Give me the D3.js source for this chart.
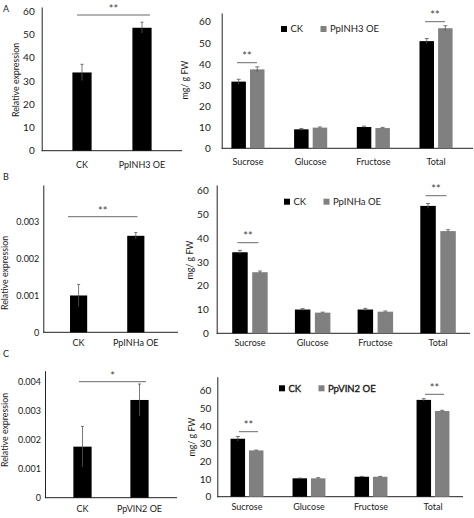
<!DOCTYPE html>
<html><head><meta charset="utf-8">
<script src="https://cdn.jsdelivr.net/npm/d3@7"></script>
<style>body{margin:0;background:#fff}svg{display:block}text{font-family:Lato,"Open Sans",sans-serif}</style>
</head><body>
<svg id="c" width="474" height="518"></svg>
<script>
// ---------- DATA ----------
const exprCatsA = ["CK", "PpINH3 OE"];
const exprCatsB = ["CK", "PpINHa OE"];
const exprCatsC = ["CK", "PpVIN2 OE"];
const exprA = [33.6, 52.8];
const exprErrA = [3.5, 2.4];
const exprB = [0.0010, 0.00262];
const exprErrB = [0.0003, 0.00009];
const exprC = [0.00176, 0.00337];
const exprErrC = [0.0007, 0.00055];
const exprTicksA = [0, 10, 20, 30, 40, 50, 60];
const exprTickLabelsA = ["0", "10", "20", "30", "40", "50", "60"];
const exprTicksB = [0, 0.001, 0.002, 0.003];
const exprTickLabelsB = ["0", "0.001", "0.002", "0.003"];
const exprTicksC = [0, 0.001, 0.002, 0.003, 0.004];
const exprTickLabelsC = ["0", "0.001", "0.002", "0.003", "0.004"];
const exprSigA = "**", exprSigB = "**", exprSigC = "*";

const sugars = ["Sucrose", "Glucose", "Fructose", "Total"];
const oeNameA = "PpINH3 OE", oeNameB = "PpINHa OE", oeNameC = "PpVIN2 OE";
const sugarCKA = [31.6, 9.0, 10.1, 50.8];
const sugarOEA = [37.4, 9.8, 9.6, 56.9];
const sugarCKErrA = [1.1, 0.4, 0.4, 1.2];
const sugarOEErrA = [1.2, 0.3, 0.3, 1.2];
const sugarCKB = [34.1, 10.0, 10.0, 53.6];
const sugarOEB = [25.7, 8.7, 9.1, 43.0];
const sugarCKErrB = [0.8, 0.4, 0.5, 1.0];
const sugarOEErrB = [0.5, 0.2, 0.3, 0.6];
const sugarCKC = [32.8, 10.4, 11.3, 54.8];
const sugarOEC = [26.2, 10.4, 11.3, 48.5];
const sugarCKErrC = [1.3, 0.1, 0.2, 0.7];
const sugarOEErrC = [0.2, 0.4, 0.2, 0.4];
const sugarTicks = [0, 10, 20, 30, 40, 50, 60];
const sugarTickLabels = ["0", "10", "20", "30", "40", "50", "60"];
const sugarSigIdx = [0, 3];
const sugarSig = "**";

// ---------- DRAW ----------
const svg = d3.select("#c");
const ERR = "#555", SIG = "#6a6a6a", GRAY = "#808080", TXT = "#1a1a1a";

function errBar(g, cx, y, v, e, cap) {
  g.append("line").attr("x1", cx).attr("x2", cx).attr("y1", y(v - e)).attr("y2", y(v + e))
    .attr("stroke", ERR).attr("stroke-width", 0.8);
  g.append("line").attr("x1", cx - cap).attr("x2", cx + cap).attr("y1", y(v + e)).attr("y2", y(v + e))
    .attr("stroke", ERR).attr("stroke-width", 0.8);
}

function yAxis(g, y, L, ticks, labels) {
  const ax = y.copy().domain([0, y.invert(L.top)]).range([L.base, L.top]);
  const a = g.append("g").attr("transform", `translate(${L.ax},0)`)
    .call(d3.axisLeft(ax).tickValues(ticks).tickFormat((d, i) => labels[i]).tickSize(0).tickPadding(L.pad));
  a.select(".domain").attr("stroke", "#222").attr("stroke-width", 1);
  a.selectAll("text").attr("font-size", L.fs).attr("fill", TXT).attr("font-family", "Lato");
  g.append("line").attr("x1", L.ax).attr("x2", L.xEnd).attr("y1", L.base).attr("y2", L.base)
    .attr("stroke", "#222").attr("stroke-width", 1);
}

function drawLeft(L, cats, vals, errs, ticks, labels, sig) {
  const g = svg.append("g");
  const y = d3.scaleLinear().domain([0, L.dMax]).range([L.base, L.yMax]);
  const x = d3.scaleBand().domain(cats).range(L.xr).paddingInner(L.pin).paddingOuter(L.pout);
  yAxis(g, y, L, ticks, labels);
  g.selectAll(".b").data(cats).join("rect")
    .attr("x", d => x(d)).attr("width", x.bandwidth())
    .attr("y", (d, i) => y(vals[i])).attr("height", (d, i) => L.base - y(vals[i])).attr("fill", "#000");
  cats.forEach((c, i) => errBar(g, x(c) + x.bandwidth() / 2, y, vals[i], errs[i], 1.5));
  cats.forEach(c => g.append("text").attr("x", x(c) + x.bandwidth() / 2).attr("y", L.lab)
    .attr("text-anchor", "middle").attr("font-size", 9).attr("fill", TXT)
    .attr("font-weight", L.bold ? "bold" : "normal").text(c));
  g.append("line").attr("x1", L.sig[0]).attr("x2", L.sig[1]).attr("y1", L.sig[2]).attr("y2", L.sig[2])
    .attr("stroke", SIG).attr("stroke-width", 1);
  g.append("text").attr("x", (L.sig[0] + L.sig[1]) / 2).attr("y", L.sig[2] - 2).attr("text-anchor", "middle")
    .attr("font-size", 11).attr("fill", "#444").text(sig);
  g.append("text").attr("transform", `translate(${L.tx},${L.ty}) rotate(-90)`).attr("text-anchor", "middle")
    .attr("font-size", 8.8).attr("fill", TXT).text("Relative expression");
  g.append("text").attr("x", 3).attr("y", L.py).attr("font-size", 9).attr("fill", TXT).text(L.pl);
}

function drawRight(L, ck, oe, ckE, oeE, oeName) {
  const g = svg.append("g");
  const y = d3.scaleLinear().domain([0, 60]).range([L.base, L.y60]);
  const x = d3.scaleBand().domain(sugars).range(L.xr);
  yAxis(g, y, L, sugarTicks, sugarTickLabels);
  const series = [{ v: ck, e: ckE, c: "#000", o: -L.off }, { v: oe, e: oeE, c: GRAY, o: L.off }];
  series.forEach(s => {
    g.selectAll(null).data(sugars).join("rect")
      .attr("x", d => x(d) + x.bandwidth() / 2 + s.o - L.bw / 2).attr("width", L.bw)
      .attr("y", (d, i) => y(s.v[i])).attr("height", (d, i) => L.base - y(s.v[i])).attr("fill", s.c);
    sugars.forEach((d, i) => errBar(g, x(d) + x.bandwidth() / 2 + s.o, y, s.v[i], s.e[i], 2));
  });
  sugars.forEach(d => g.append("text").attr("x", x(d) + x.bandwidth() / 2).attr("y", L.lab)
    .attr("text-anchor", "middle").attr("font-size", 9).attr("fill", TXT).text(d));
  sugarSigIdx.forEach((k, j) => {
    const cx = x(sugars[k]) + x.bandwidth() / 2 + L.sigDx;
    const yy = L.sigY[j];
    g.append("line").attr("x1", cx - L.sigW).attr("x2", cx + L.sigW).attr("y1", yy).attr("y2", yy)
      .attr("stroke", SIG).attr("stroke-width", 1);
    g.append("text").attr("x", cx).attr("y", yy - 2.5).attr("text-anchor", "middle")
      .attr("font-size", 11).attr("fill", "#444").text(sugarSig);
  });
  const lg = g.append("g").attr("transform", `translate(${L.lgx},${L.lgy})`);
  [["CK", "#000", 0], [oeName, GRAY, L.lgGap]].forEach(([n, c, dx]) => {
    lg.append("rect").attr("x", dx).attr("y", -3).attr("width", 6).attr("height", 6).attr("fill", c);
    lg.append("text").attr("x", dx + 9.5).attr("y", 3.3).attr("font-size", 9.5).attr("fill", TXT)
      .attr("stroke", L.lgBold ? TXT : "none").attr("stroke-width", 0.35).text(n);
  });
  g.append("text").attr("transform", `translate(${L.tx},${L.ty}) rotate(-90)`).attr("text-anchor", "middle")
    .attr("font-size", 8.8).attr("fill", TXT).text("mg/ g FW");
}

// ---------- LAYOUT ----------
drawLeft({ ax: 41.7, base: 150.7, yMax: 11, dMax: 60, top: 7, xEnd: 182, xr: [52, 172], pin: 0.68, pout: 0.34, pad: 7, fs: 10,
  lab: 168, sig: [77, 150, 15], tx: 19, ty: 80, py: 12, pl: "A" }, exprCatsA, exprA, exprErrA, exprTicksA, exprTickLabelsA, exprSigA);
drawLeft({ ax: 43.3, base: 332.3, yMax: 185, dMax: 0.004, top: 185, xEnd: 178, xr: [50, 164.4], pin: 0.7, pout: 0.35, pad: 4, fs: 9,
  lab: 345.5, sig: [68, 137.5, 216.7], tx: 7.5, ty: 273, py: 180, pl: "B" }, exprCatsB, exprB, exprErrB, exprTicksB, exprTickLabelsB, exprSigB);
drawLeft({ ax: 45, base: 497.7, yMax: 381.7, dMax: 0.004, top: 370.7, xEnd: 177, xr: [54, 168], pin: 0.68, pout: 0.34, pad: 4, fs: 9,
  lab: 512, sig: [79, 146, 381.7], tx: 7.5, ty: 430, py: 357, pl: "C", bold: false }, exprCatsC, exprC, exprErrC, exprTicksC, exprTickLabelsC, exprSigC);

drawRight({ ax: 221.7, base: 148.3, y60: 21.7, top: 13, xEnd: 473, xr: [216.6, 467.4], bw: 14.5, off: 9.3, pad: 11, fs: 10,
  lab: 164.5, sigDx: -1, sigW: 10, sigY: [62.7, 21.7], lgx: 281, lgy: 29, lgGap: 39.5, tx: 188, ty: 80 },
  sugarCKA, sugarOEA, sugarCKErrA, sugarOEErrA, oeNameA);
drawRight({ ax: 216.7, base: 333.3, y60: 190.7, top: 185, xEnd: 470, xr: [218.6, 469.4], bw: 15.5, off: 10, pad: 8, fs: 10,
  lab: 346, sigDx: -2, sigW: 10.5, sigY: [242.7, 195.7], lgx: 284, lgy: 201.7, lgGap: 39.5, tx: 193, ty: 260 },
  sugarCKB, sugarOEB, sugarCKErrB, sugarOEErrB, oeNameB);
drawRight({ ax: 217.3, base: 496.7, y60: 390.7, top: 376.7, xEnd: 463, xr: [216, 464], bw: 14.5, off: 9.2, pad: 6, fs: 10,
  lab: 509.5, sigDx: 1.5, sigW: 9.5, sigY: [431.7, 394.3], lgx: 279, lgy: 388.3, lgGap: 39.5, lgBold: true, tx: 195, ty: 437 },
  sugarCKC, sugarOEC, sugarCKErrC, sugarOEErrC, oeNameC);
</script>
</body></html>
